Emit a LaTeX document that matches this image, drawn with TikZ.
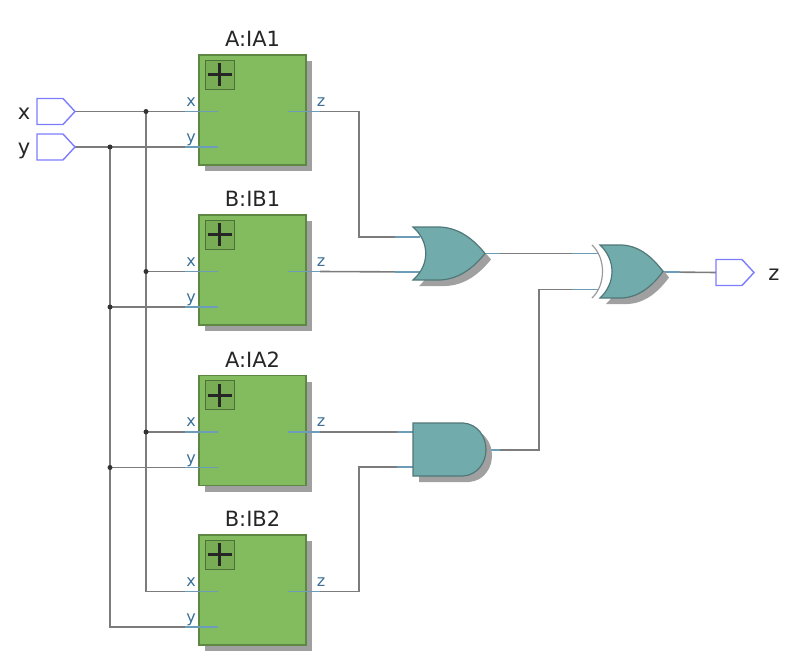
\documentclass[tikz,border=0pt]{standalone}
\usepackage{fontspec}
\setmainfont{DejaVu Sans}
\definecolor{blockgreen}{HTML}{82BC5E}
\definecolor{gateteal}{HTML}{72ABAB}
\definecolor{shade}{HTML}{A0A0A0}
\definecolor{wire}{HTML}{7C7C7C}
\definecolor{stub}{HTML}{6C9CB8}
\definecolor{pinlabel}{HTML}{3A6F96}
\definecolor{portblue}{HTML}{7C7CFF}
\tikzset{
  x=1pt,y=-1pt,
  wire/.style={draw=wire,line width=1.6pt},
  stub/.style={draw=stub,line width=1.6pt},
  dot/.style={circle,fill=black!80,inner sep=0pt,minimum size=5pt},
  block/.style={draw=black!28!blockgreen,fill=blockgreen,line width=1.2pt,minimum width=107pt,minimum height=110pt,inner sep=0pt,outer sep=0pt},
  blockshadow/.style={fill=shade,minimum width=107pt,minimum height=110pt,inner sep=0pt,draw=none},
  title/.style={font=\fontsize{21}{22}\selectfont,text=black!85,inner sep=0pt},
  pin/.style={font=\fontsize{16}{17}\selectfont,text=pinlabel,inner sep=0pt},
  port/.style={draw=portblue,line width=1.4pt,fill=white,line join=miter},
  plabel/.style={font=\fontsize{21}{22}\selectfont,text=black!85,inner sep=0pt},
  gate/.style={fill=gateteal,draw=black!30!gateteal,line width=1.2pt},
  gshadow/.style={fill=shade,draw=none},
}
\newcommand{\hdlblock}[3]{% name, centre y, title
  \node[blockshadow] at (258.5,#2+6) {};
  \node[block] (#1) at (252.5,#2) {};
  \node[title] (#1t) at (252.5,#2-71) {#3};
  \draw[draw=black!40!blockgreen,line width=.8pt,fill=blockgreen!92!black] (205,#2-50) rectangle (234,#2-21);
  \draw[line width=3pt,draw=black!85] (219.5,#2-47) -- (219.5,#2-24) (207.5,#2-35.5) -- (231.5,#2-35.5);
  \coordinate (#1x) at (218,#2+1.5);
  \coordinate (#1xs) at (185,#2+1.5);
  \coordinate (#1y) at (218,#2+37);
  \coordinate (#1ys) at (185,#2+37);
  \coordinate (#1z) at (288,#2+1.5);
  \coordinate (#1zs) at (320,#2+1.5);
  \node[pin] (#1lx) at (191,#2-8) {x};
  \node[pin] (#1ly) at (191,#2+30) {y};
  \node[pin] (#1lz) at (321,#2-8) {z};
}
\newcommand{\orbody}[2]{% x offset, y offset
  (#1+413,#2+227) -- (#1+440,#2+227) .. controls (#1+460,#2+228) and (#1+474,#2+240) .. (#1+485,#2+253.5)
  .. controls (#1+474,#2+267) and (#1+460,#2+279) .. (#1+440,#2+280) -- (#1+413,#2+280)
  .. controls (#1+430,#2+265) and (#1+430,#2+242) .. (#1+413,#2+227) -- cycle}
\newcommand{\xorbody}[2]{%
  (#1+600,#2+245) -- (#1+622,#2+245) .. controls (#1+640,#2+246) and (#1+653,#2+258) .. (#1+663,#2+271.5)
  .. controls (#1+653,#2+285) and (#1+640,#2+297) .. (#1+622,#2+298) -- (#1+600,#2+298)
  .. controls (#1+616,#2+283) and (#1+616,#2+260) .. (#1+600,#2+245) -- cycle}
\newcommand{\andbody}[2]{%
  (#1+413,#2+423) -- (#1+463,#2+423) .. controls (#1+478,#2+424) and (#1+486,#2+437) .. (#1+486,#2+449.5)
  .. controls (#1+486,#2+462) and (#1+478,#2+475) .. (#1+463,#2+476) -- (#1+413,#2+476) -- cycle}
\newcommand{\portshape}[2]{% left x, centre y
  (#1,#2-13) -- (#1+26,#2-13) -- (#1+38,#2) -- (#1+26,#2+13) -- (#1,#2+13) -- cycle}
\begin{document}
\begin{tikzpicture}
\useasboundingbox (0,0) rectangle (790,666);
\coordinate (px) at (75,111.5);
\coordinate (py) at (75,147);
\coordinate (jx1) at (146,111.5);
\coordinate (jy1) at (110,147);
\coordinate (orin1) at (420,237);
\coordinate (orin2) at (420,272);
\coordinate (orout) at (486,253.5);
\coordinate (xorin1) at (598,253.5);
\coordinate (xorin2) at (598,289.5);
\coordinate (xorout) at (664,272);
\coordinate (pz) at (716,272.5);
\coordinate (andin1) at (413,432);
\coordinate (andin2) at (413,467);
\coordinate (andout) at (486,450);
\coordinate (bend1) at (359,237);
\coordinate (bend2) at (359,467);
\coordinate (bend3) at (539,289.5);

\hdlblock{IAa}{110}{A:IA1}
\hdlblock{IBa}{270}{B:IB1}
\hdlblock{IAb}{430.5}{A:IA2}
\hdlblock{IBb}{590}{B:IB2}

% input nets
\draw[wire] (px) -- (IAax);
\draw[wire] (py) -- (IAay);
\draw[wire] (jx1) |- (IBbx);
\draw[wire] (jy1) |- (IBby);
\draw[wire] (jx1 |- IBax) -- (IBax);
\draw[wire] (jy1 |- IBay) -- (IBay);
\draw[wire] (jx1 |- IAbx) -- (IAbx);
\draw[wire] (jy1 |- IAby) -- (IAby);
% stubs
\foreach \bk in {IAa,IBa,IAb,IBb}{
  \draw[stub] (\bk xs) -- (\bk x);
  \draw[stub] (\bk ys) -- (\bk y);
}
% dots
\node[dot] (d1) at (jx1) {};
\node[dot] (d2) at (jy1) {};
\node[dot] (d3) at (jx1 |- IBax) {};
\node[dot] (d4) at (jy1 |- IBay) {};
\node[dot] (d5) at (jx1 |- IAbx) {};
\node[dot] (d6) at (jy1 |- IAby) {};

% output nets
\draw[wire] (IAazs) -| (bend1) -- (orin1);
\draw[wire] (IBazs) -- (orin2);
\draw[wire] (IAbzs) -- (andin1);
\draw[wire] (IBbzs) -| (bend2) -- (andin2);
\draw[wire] (orout) -- (xorin1);
\draw[wire] (andout) -| (bend3) -- (xorin2);
\draw[wire] (xorout) -- (pz);
\foreach \bk in {IAa,IBa,IAb,IBb}{
  \draw[stub] (\bk z) -- (\bk zs);
}
% gate stubs
\draw[stub] (395,237) -- (orin1);
\draw[stub] (395,272) -- (orin2);
\draw[stub] (397,432) -- (andin1);
\draw[stub] (397,467) -- (andin2);
\draw[stub] (486,253.5) -- (500,253.5);
\draw[stub] (486,450) -- (500,450);
\draw[stub] (572,253.5) -- (xorin1);
\draw[stub] (572,289.5) -- (xorin2);
\draw[stub] (664,272) -- (680,272);

% gates
\fill[gshadow] \orbody{6}{6};
\draw[gate] \orbody{0}{0};
\fill[gshadow] \andbody{6}{6};
\draw[gate] \andbody{0}{0};
\fill[gshadow] \xorbody{6}{6};
\draw[draw=black!40,line width=1.2pt] (592,245) .. controls (606,258) and (606,285) .. (592,298);
\draw[gate] \xorbody{0}{0};

% ports
\draw[port] \portshape{37}{111.5};
\draw[port] \portshape{37}{147};
\draw[port] \portshape{716}{272.5};
\node[plabel] (lx) at (24,114) {x};
\node[plabel] (ly) at (24,151) {y};
\node[plabel] (lz) at (774,275) {z};
\end{tikzpicture}
\end{document}
